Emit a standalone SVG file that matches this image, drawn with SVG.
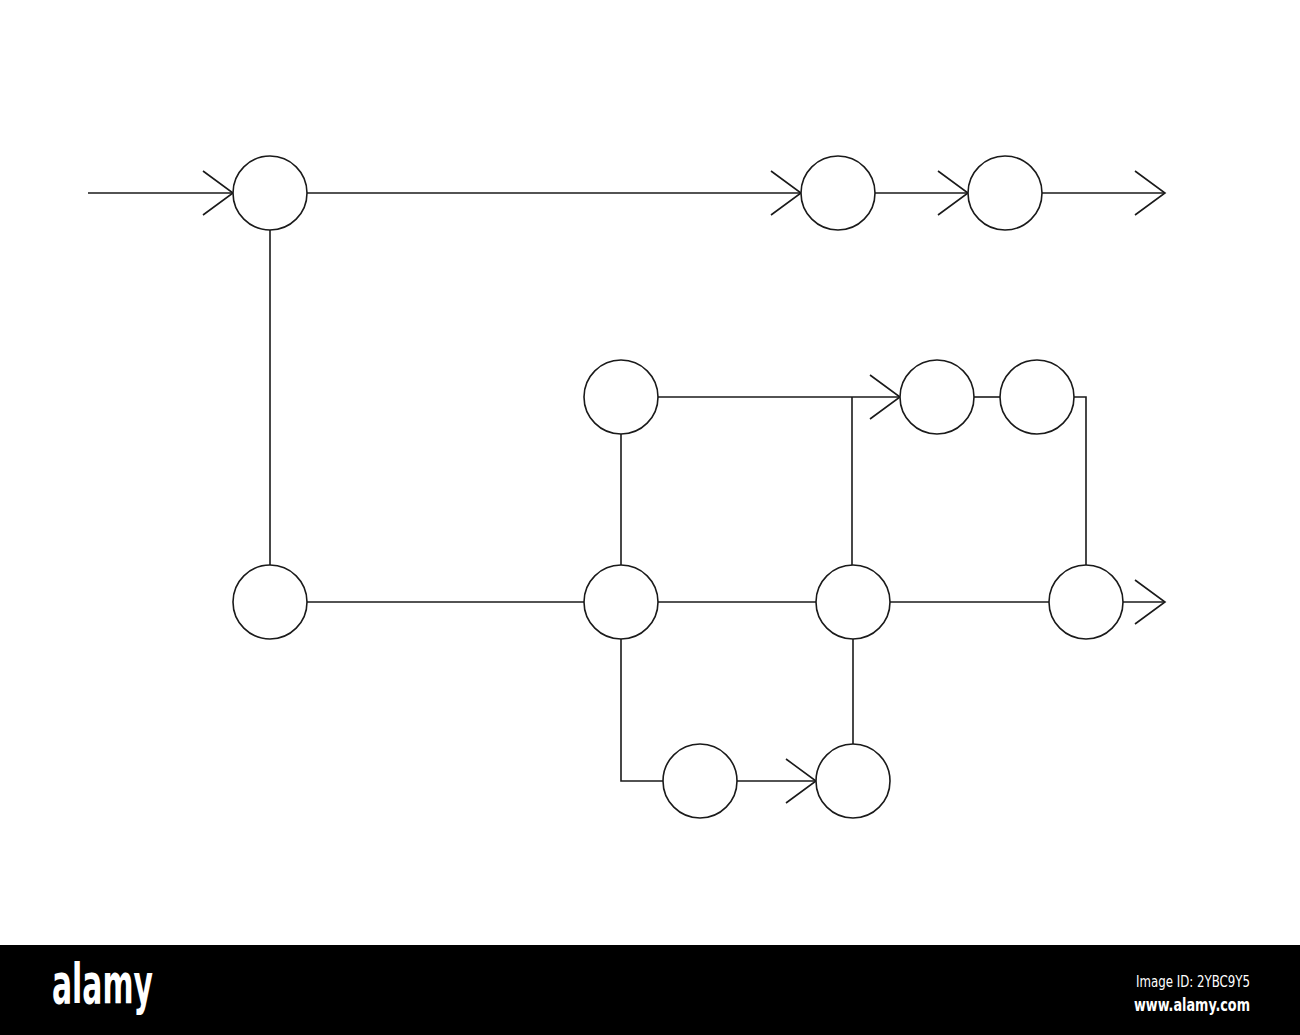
<svg xmlns="http://www.w3.org/2000/svg" width="1300" height="1035" viewBox="0 0 1300 1035">
<style>
.n{fill:#fff;stroke:#1a1a1a;stroke-width:1.6}
.c{fill:none;stroke:#1a1a1a;stroke-width:1.6}
.a{fill:none;stroke:#1a1a1a;stroke-width:1.6}
.w{fill:#fff;font-family:"DejaVu Sans Condensed","DejaVu Sans",sans-serif}
</style>
<defs>
<symbol id="ah" overflow="visible"><path class="a" d="M-30,-22 L0,0 L-30,22"/></symbol>
</defs>
<rect width="1300" height="1035" fill="#fff"/>
<g id="connectors">
<path class="c" d="M88,193 H233"/>
<path class="c" d="M307,193 H801"/>
<path class="c" d="M875,193 H968"/>
<path class="c" d="M1042,193 H1165"/>
<path class="c" d="M270,230 V565"/>
<path class="c" d="M307,602 H584"/>
<path class="c" d="M658,602 H816"/>
<path class="c" d="M890,602 H1049"/>
<path class="c" d="M1123,602 H1165"/>
<path class="c" d="M658,397 H900"/>
<path class="c" d="M852,397 V565"/>
<path class="c" d="M974,397 H1000"/>
<path class="c" d="M1074,397 H1086 V565"/>
<path class="c" d="M621,434 V565"/>
<path class="c" d="M621,639 V781 H663"/>
<path class="c" d="M737,781 H816"/>
<path class="c" d="M853,744 V639"/>
<use href="#ah" x="233" y="193"/>
<use href="#ah" x="801" y="193"/>
<use href="#ah" x="968" y="193"/>
<use href="#ah" x="1165" y="193"/>
<use href="#ah" x="900" y="397"/>
<use href="#ah" x="1165" y="602"/>
<use href="#ah" x="816" y="781"/>
</g>
<g id="nA"><circle class="n" cx="270" cy="193" r="37"/></g>
<g id="nB"><circle class="n" cx="838" cy="193" r="37"/></g>
<g id="nC"><circle class="n" cx="1005" cy="193" r="37"/></g>
<g id="nD"><circle class="n" cx="621" cy="397" r="37"/></g>
<g id="nE"><circle class="n" cx="937" cy="397" r="37"/></g>
<g id="nF"><circle class="n" cx="1037" cy="397" r="37"/></g>
<g id="nG"><circle class="n" cx="270" cy="602" r="37"/></g>
<g id="nH"><circle class="n" cx="621" cy="602" r="37"/></g>
<g id="nI"><circle class="n" cx="853" cy="602" r="37"/></g>
<g id="nJ"><circle class="n" cx="1086" cy="602" r="37"/></g>
<g id="nK"><circle class="n" cx="700" cy="781" r="37"/></g>
<g id="nL"><circle class="n" cx="853" cy="781" r="37"/></g>
<g id="banner">
<rect x="0" y="945" width="1300" height="90" fill="#000"/>
<text class="w" x="52" y="1003" font-size="56" font-weight="bold" textLength="101" lengthAdjust="spacingAndGlyphs">alamy</text>
<text class="w" x="1136" y="987" font-size="16" textLength="114" lengthAdjust="spacingAndGlyphs">Image ID: 2YBC9Y5</text>
<text class="w" x="1134" y="1011" font-size="18" font-weight="bold" textLength="116" lengthAdjust="spacingAndGlyphs">www.alamy.com</text>
</g>
</svg>
